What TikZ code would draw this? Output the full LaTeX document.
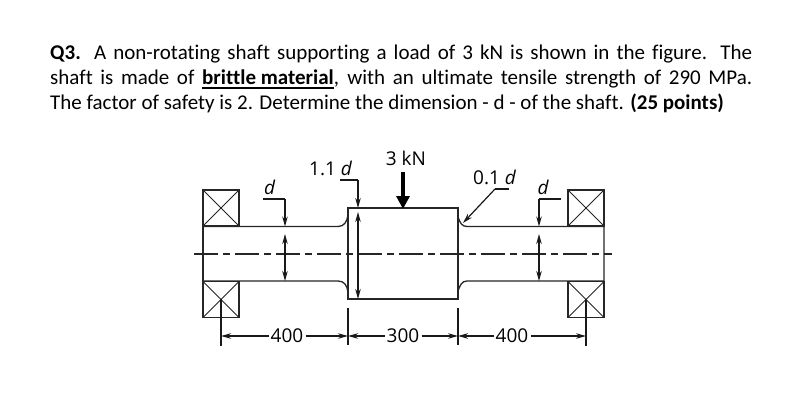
\documentclass[tikz,border=0pt]{standalone}
\usepackage{fontspec}
\setmainfont[RawFeature={-liga}]{Carlito}
\newfontfamily\figfont{Open Sans}
\usetikzlibrary{arrows.meta}
\newcommand{\ulbold}[1]{\setbox0=\hbox{#1}\rlap{\rule[-3.6pt]{\wd0}{1.7pt}}\box0 }
\tikzset{
  x=1pt,y=-1pt,
  para/.style={anchor=base west,inner sep=0pt,font=\fontsize{21}{26}\selectfont},
  figlabel/.style={inner sep=0pt,font=\figfont\fontsize{19}{22}\selectfont},
  dimlabel/.style={inner sep=2pt,font=\figfont\fontsize{19}{22}\selectfont},
  outline/.style={line width=1.3pt,black!85},
  dim/.style={line width=1.2pt,black!90,-{Stealth[length=10pt,width=5.5pt]}},
  plain dim/.style={line width=1.2pt,black!90},
  center line/.style={line width=1.5pt,black!85,dash pattern=on 24pt off 5pt on 7pt off 5pt},
  bearing/.style={draw,line width=1.3pt,black!85,minimum width=36pt,minimum height=36pt,inner sep=0pt,
    path picture={\draw[line width=1pt] (path picture bounding box.north west)--(path picture bounding box.south east)
      (path picture bounding box.north east)--(path picture bounding box.south west);}}
}
\begin{document}
\begin{tikzpicture}
\useasboundingbox (0,0) rectangle (805,401);
\fill[white] (0,0) rectangle (805,401);
% text
\node[para] (l1) at (50,59.5) {\makebox[702pt][s]{\textbf{Q3.} A non-rotating shaft supporting a load of 3 kN is shown in the figure. The}};
\node[para] (l2) at (50,85) {\makebox[702pt][s]{shaft is made of \ulbold{\textbf{brittle material}}\unskip, with an ultimate tensile strength of 290 MPa.}};
\node[para] (l3) at (50,110) {The factor of safety is 2. Determine the dimension - d - of the shaft. \textbf{(25 points)}};
% bearings
\node[bearing] (bTL) at (221,208) {};
\node[bearing] (bBL) at (221,299.5) {};
\node[bearing] (bTR) at (586,208) {};
\node[bearing] (bBR) at (586,299.5) {};
% shaft
\draw[outline] (203,226.5) -- (338,226.5) .. controls (344,226.5) and (347,222) .. (348,215);
\draw[outline] (203,281) -- (338,281) .. controls (344,281) and (347,285) .. (348,292);
\draw[outline] (203,226.5) -- (203,281);
\draw[outline] (348,208) rectangle (458,299);
\draw[outline] (458,217) .. controls (460,223) and (462,226.5) .. (467,226.5) -- (604,226.5) -- (604,281) -- (467,281) .. controls (462,281) and (460,285) .. (458,291);
\draw[center line] (194,254) -- (612,254);
% d left
\coordinate (dLa) at (263,199);\coordinate (dLb) at (285,199);
\coordinate (dLt) at (285,226.5);\coordinate (dLm) at (285,254);\coordinate (dLu) at (285,234);\coordinate (dLe) at (285,281);
\draw[plain dim] (dLa) -- (dLb);
\draw[dim] (dLb) -- (dLt);
\draw[dim] (dLm) -- (dLu);
\draw[dim] (dLm) -- (dLe);
\node[figlabel] (dLl) at (269.5,187) {\itshape d};
% 1.1 d
\coordinate (cLa) at (340,180);\coordinate (cLb) at (358,180);
\coordinate (cLt) at (358,208);\coordinate (cLm) at (358,254);\coordinate (cLu) at (358,212);\coordinate (cLe) at (358,299);
\draw[plain dim] (cLa) -- (cLb);
\draw[dim] (cLb) -- (cLt);
\draw[dim] (cLm) -- (cLu);
\draw[dim] (cLm) -- (cLe);
\node[figlabel] (cLl) at (330.5,168.5) {1.1 \itshape d};
% load
\coordinate (fa) at (403,172);\coordinate (fb) at (403,209);
\draw[line width=4.5pt,-{Triangle[length=13pt,width=13pt]}] (fa) -- (fb);
\node[figlabel] (fl) at (406,158.5) {3 kN};
% 0.1 d
\coordinate (ra) at (509,189);\coordinate (rb) at (495,189);\coordinate (rt) at (463,223);
\draw[plain dim] (ra) -- (rb);
\draw[dim] (rb) -- (rt);
\node[figlabel] (rl) at (494.5,177) {0.1 \itshape d};
% d right
\coordinate (dRa) at (561,199);\coordinate (dRb) at (539,199);
\coordinate (dRt) at (539,226.5);\coordinate (dRm) at (539,254);\coordinate (dRu) at (539,234);\coordinate (dRe) at (539,281);
\draw[plain dim] (dRa) -- (dRb);
\draw[dim] (dRb) -- (dRt);
\draw[dim] (dRm) -- (dRu);
\draw[dim] (dRm) -- (dRe);
\node[figlabel] (dRl) at (543,187) {\itshape d};
% extension lines
\coordinate (e1a) at (221,299);\coordinate (e1b) at (221,346);
\coordinate (e2a) at (348,308);\coordinate (e2b) at (348,345);
\coordinate (e3a) at (458,308);\coordinate (e3b) at (458,345);
\coordinate (e4a) at (586,299);\coordinate (e4b) at (586,346);
\draw[plain dim] (e1a) -- (e1b);
\draw[plain dim] (e2a) -- (e2b);
\draw[plain dim] (e3a) -- (e3b);
\draw[plain dim] (e4a) -- (e4b);
% dimension labels
\node[dimlabel] (n1) at (287,336) {400};
\node[dimlabel] (n2) at (403,336) {300};
\node[dimlabel] (n3) at (512,336) {400};
\draw[dim] (n1.west) -- (n1.west -| e1a);
\draw[dim] (n1.east) -- (n1.east -| e2a);
\draw[dim] (n2.west) -- (n2.west -| e2a);
\draw[dim] (n2.east) -- (n2.east -| e3a);
\draw[dim] (n3.west) -- (n3.west -| e3a);
\draw[dim] (n3.east) -- (n3.east -| e4a);
\end{tikzpicture}
\end{document}
